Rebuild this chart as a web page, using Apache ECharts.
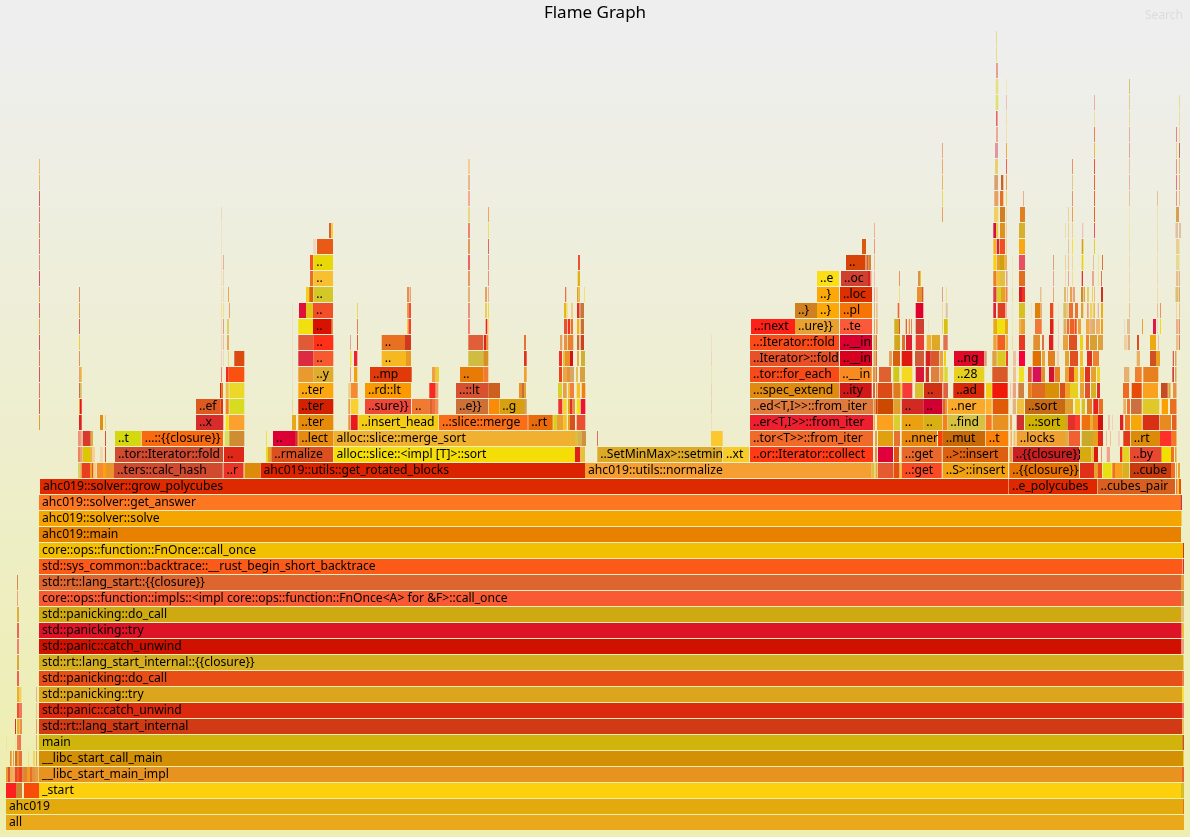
<!DOCTYPE html>
<html><head><meta charset="utf-8"><style>html,body{margin:0;padding:0;background:#eee}#c{width:1190px;height:837px}</style>
<script src="https://cdn.jsdelivr.net/npm/echarts@6/dist/echarts.min.js"></script></head><body><div id="c"></div>
<script>
// Each row is one stack depth: [startSample, endSample, frameName]. colorsN holds the frame colours of that depth.
const row0=[[6,1184,'all']];const colors0='e9a91b';
const row1=[[6,1183,'ahc019'],[1183,1184]];const colors1='e2aa0d e8701a';
const row2=[[6,16],[16,22],[24,39],[39,1181,'_start'],[1181,1184]];const colors2='fc2020 cd8232 f84d08 fdd00d d4bd2a';
const row3=[[6,8],[8,10],[10,12],[12,15],[15,17],[17,19],[19,22],[22,24],[24,27],[27,30],[30,32],[32,35],[35,38.5],[39,1182,'__libc_start_main_impl'],[1182,1184]];
const colors3='e89a28 e05030 e8b050 efb060 f04030 e86020 f03a28 d89040 e88030 e8a020 f06a30 e89040 e0a040 e8931f e86030';
const row4=[[10,11],[11,12],[13,14],[15,17],[17,19],[19,22],[28,29],[33,35],[36,37],[39,1183,'__libc_start_call_main'],[1183,1184]];
const colors4='e0903a e8b050 e8a048 d07028 e8a030 e87040 f0e080 f0d860 e8a050 d39005 d8d828';
const row5=[[6,7],[15,16],[17,19],[19,21],[36,37],[39,1182,'main'],[1182,1183],[1183,1184]];
const colors5='f0e890 f0e8a0 f08040 f07060 e8b070 d0b40b c89030 d84818';
const row6=[[15,16],[17,19],[19,20],[20,22],[36,37],[39,1182,'std::rt::lang_start_internal'],[1182,1184]];
const colors6='d03030 e8b030 f0c050 e89050 e8a060 d03a15 e8c060';
const row7=[[17,19],[19,22],[36,37],[39,1182,'std::panic::catch_unwind'],[1182,1184]];
const colors7='f05030 f07860 f0c090 dc2a0e f07060';
const row8=[[17,19],[19,21],[21,22],[36,37],[39,1182,'std::panicking::try'],[1182,1184]];
const colors8='e8b030 f0d060 f0e090 e8b090 dba51e f0e040';
const row9=[[17,19],[39,1182,'std::panicking::do_call'],[1182,1184]];const colors9='f06050 e84f17 e88050';
const row10=[[17,19],[39,1183,'std::rt::lang_start_internal::{{closure}}'],[1183,1184]];const colors10='d8a840 d4ae1e e8d060';
const row11=[[17,19],[39,1181.5,'std::panic::catch_unwind'],[1181.5,1184]];const colors11='f08070 d01100 e8a080';
const row12=[[17,19],[39,1181.5,'std::panicking::try'],[1182,1184]];const colors12='e86858 dd1428 e8c040';
const row13=[[17,19],[39,1181,'std::panicking::do_call'],[1181,1184]];const colors13='dcb040 cfa912 e8c080';
const row14=[[17,18],[39,1181,'core::ops::function::impls::<impl core::ops::function::FnOnce<A> for &F>::call_once'],[1181,1184]];const colors14='e8a080 f85a33 c89040';
const row15=[[17,18],[39,1181,'std::rt::lang_start::{{closure}}'],[1181,1184]];const colors15='d88850 dc6530 e8a040';
const row16=[[39,1182.5,'std::sys_common::backtrace::__rust_begin_short_backtrace'],[1183,1184]];const colors16='fb5a18 d83028';
const row17=[[39,1183,'core::ops::function::FnOnce::call_once'],[1183,1184]];const colors17='f2c000 d83028';
const row18=[[39,1181,'ahc019::main']];const colors18='e88000';
const row19=[[39,1181.5,'ahc019::solver::solve']];const colors19='f5a500';
const row20=[[39,1180.5,'ahc019::solver::get_answer'],[1180.5,1182]];const colors20='fd7722 d83028';
const row21=[[40,1008.5,'ahc019::solver::grow_polycubes'],[1009,1097,'..e_polycubes'],[1097.5,1175,'..cubes_pair'],[1176,1177.5],[1178,1179],[1179,1181]];
const colors21='de2a00 e02800 d85f1f e88030 f5d010 e85010';
const row22=[[78,80],[80,81],[81.5,90],[90,92],[92,93.5],[93.5,96.5],[97,103],[103,106],[106,114],[114,222.7,'..ters::calc_hash'],[223.5,243.5,'..r'],[244.5,260],[260.5,585,'ahc019::utils::get_rotated_blocks'],[585,871.7,'ahc019::utils::normalize'],[872,874],[874,875],[875.5,877.5],[878,893.5],[894,899.5],[900,901.5],[901.7,941.7,'..:get'],[942.7,1008,'..S>::insert'],[1009.3,1079,'..{{closure}}'],[1080,1094],[1094,1098],[1098,1102],[1102.7,1111.7],[1112.3,1115],[1115,1122.3],[1122.3,1129.3],[1130,1171,'..cube'],[1171,1175],[1176,1177],[1178,1180]];
const colors22='d8d060 e8c040 e8401e f0a020 e85030 f0d080 f58a30 fba010 e9952c d04a30 e93526 dc8c0a dc2300 f59f32 d8c040 e8e060 f0a040 e55a30 e0500f e8d020 fa4a25 f0a010 e67000 e0301a e8a030 e85020 e8e010 f07020 f8a020 d8b020 c83a10 f07020 e8b060 e8a030';
const row23=[[78,80],[80,82.5],[82.7,90],[90,92.5],[92.5,95],[100,103],[105,106],[115,223,'..tor::Iterator::fold'],[224,244,'..'],[266,268],[268,271],[271.3,333,'..rmalize'],[333.5,575,'alloc::slice::<impl [T]>::sort'],[575,580],[580,585],[597.3,722.3,'..SetMinMax>::setmin'],[723,749,'..xt'],[750,873,'..or::Iterator::collect'],[875,877],[878,893],[894,899],[901.7,941.7,'..:get'],[942.7,1008,'..>::insert'],[1009.5,1012],[1012.7,1079.3,'..{{closure}}'],[1080,1091.5],[1092,1094],[1094,1098],[1101,1102],[1106.7,1110],[1120,1122.5],[1122.5,1129.5],[1130,1161.7,'..by'],[1161.7,1171],[1171,1174],[1175,1176.5]];
const colors23='f08060 e8a080 dcc800 f0b050 f8d090 f0d8b0 e05030 d04a30 e02818 f0d820 e8a020 dc5020 f5de08 e0201a e8c040 dcaa28 f8cc28 ff3a14 e89040 e0003c e0500f e8682a dc6010 f0a040 c82020 d8aa10 e8c040 d81a10 f09070 f0a090 e83020 e8d020 e84830 f0e000 f07030 e8a020';
const row24=[[78,80],[80,81.7],[82.7,90.7],[90.7,93],[105,106],[115,141,'..t'],[141.7,223,'...::{{closure}}'],[224.7,229],[229.3,244.3],[266,267],[273,295,'..'],[295,297.7],[298.3,333.3,'..lect'],[333.5,575,'alloc::slice::merge_sort'],[575,578],[578,582],[582,586],[597,598],[711,722.7],[750,873,'..tor<T>>::from_iter'],[875,877],[878,893],[894,900],[901.7,937,'..nner'],[938,942.7],[942.7,985,'..mut'],[985.7,1008.3,'..t'],[1010.5,1012],[1013.5,1015.5],[1016.7,1065,'..locks'],[1065,1068],[1068.5,1080],[1081.7,1093],[1093,1098],[1098,1103],[1106,1107],[1110,1111],[1118,1120],[1123.3,1130],[1130.7,1160,'..rt'],[1160,1171.7],[1172,1176.5]];
const colors24='f09080 e8a078 d83a30 d8b040 e05030 d3d80f f86a10 d8e060 d08c30 f0e040 dc0035 d83020 e68a10 f0b030 d8c040 d8b050 d09040 e07060 fcc830 f06a2a e8a040 e0a010 e87030 e8880e fa4008 c86a08 fa8008 f0b060 f0c070 f0a030 d8b040 f06030 cca828 e8a020 e02818 e8c0a0 f0c0a0 f0d0c0 e03818 dc8a0a ff3028 f07a20';
const row25=[[39,40],[79,81.7],[100,103],[105,106],[196,223.3,'..x'],[225.7,228.7],[229,244.3],[292,296],[298.3,333.3,'..ter'],[348.3,350],[350.7,357.7],[358.3,438.3,'..insert_head'],[439,527.7,'..:slice::merge'],[528.3,552.7,'..rt'],[553.3,556.7],[556.7,563.3],[563.3,566.7],[568,570],[570,575],[576.7,585.3],[711,712],[750,873,'..er<T,I>>::from_iter'],[873.5,875],[877,893.3],[894,900],[901.7,923.3,'..'],[923.3,942,'..'],[942.7,947],[947.3,985,'..find'],[985.7,991.7],[992.7,1008.3],[1010,1012],[1016.7,1024],[1025,1065,'..:sort'],[1065,1068],[1068,1075],[1075,1080],[1081.7,1090],[1090,1093],[1093,1098],[1098,1103],[1108,1110],[1112,1113],[1120,1123.3],[1125,1130],[1131,1141.7],[1142.7,1159.3],[1160,1171],[1172,1176.5]];
const colors25='e0a030 e02020 e09010 f0d080 d82c2c f5e010 fca030 e8a818 e68a0a e89040 e81a1a f5cc14 fa6e1a e86a0a d8d010 e8a030 f5c020 e8a020 d85020 e85030 f0dcc0 ee2030 e8b050 fca020 d8d030 eaa010 d8b015 f8801a d8c040 f87a20 e89020 f0a050 d03030 d0b000 d8a030 e03028 ff3b30 f07010 e8b030 f08020 d01010 f0c0b0 f0d0c0 e02020 f07820 f5a808 d83015 e88a20 e86020';
const row26=[[39,40],[79,80],[80,81.7],[196,220.7,'..ef'],[220.7,223],[225.7,228.7],[229.3,244.3],[292,293],[298.3,333.3,'..ter'],[348.3,350],[350.7,358.3],[365,411,'..sure}}'],[412,429.3,'..'],[429.3,432],[432,435],[435,438.3],[456,488.3,'..e}}'],[489,499],[499.3,524,'..g'],[524,526.7],[558.3,562.3],[563,566.7],[568,570],[570,572],[572,575],[576.7,580],[580.7,585.3],[711,712],[750,873,'..ed<T,I>>::from_iter'],[873.5,875],[875.5,877],[877.3,893.3],[893.5,900.5],[901.7,923.3,'..'],[923.3,942.3,'..'],[942.7,945],[945,947],[947.7,985,'..ner'],[985.7,991.7],[992.7,1008.3],[1012.7,1016],[1017,1024],[1025,1065,'..sort'],[1065,1073],[1075,1080],[1081.7,1085],[1087,1092],[1093.3,1098.3],[1099,1103],[1123.3,1126],[1127,1130],[1131,1141.7],[1142.7,1159.3],[1161.7,1168],[1170,1176.5]];
const colors26='d8604a e8a040 f01010 dc5a20 e03010 f08020 d8dc20 f0d890 d22000 e8a050 f8d030 f04838 f07a30 e06030 f07040 f09050 cc7038 fa8a08 d8a010 d0a050 f03030 f5d820 e8a020 e03030 e89040 f0e010 f01030 f0d0b0 e07a3c e09030 d83a10 cc4a00 e0a030 d02a22 d00030 e06030 f09030 fba92a fcb030 e05a08 e8b080 f0c040 c86a14 e0a030 f0d020 d8c020 e08020 e82020 e87020 e8b060 f07030 cc7040 e0c828 fca000 e87020';
const row27=[[39,40],[79,80.5],[80.5,81.7],[220,221.5],[221.5,223],[225.7,228.7],[229.3,244.3],[292,293],[298.3,333.3,'..ter'],[348.3,350],[350.7,357.7],[365,411,'..rd::lt'],[429.3,435.7],[435.7,438.3],[456,488.3,'..::lt'],[488.3,500],[519,522],[522,524],[524,526],[558,562],[563,566.7],[568,570],[570,574],[576.7,580],[581.7,585.3],[711,712],[750,839,'..:spec_extend'],[839.7,871.7,'..ity'],[873,875],[876,877],[877.7,892.3],[893.3,900],[900,901.7],[902.3,912.3],[915,923.3],[924,942.3,'..'],[943.3,948],[953.3,984.3,'..ad'],[986,991.7],[992.3,1007.7],[1010,1011],[1012.7,1016],[1018.3,1024],[1028,1031.7],[1031.7,1045],[1045,1059.3],[1060,1065],[1065,1070],[1070,1078],[1080,1084],[1085,1090],[1091,1096],[1097,1100],[1123,1129],[1131.7,1141.7],[1143,1158],[1161,1167.7],[1168.3,1170.5],[1173,1176.5]];
const colors27='e87060 c87050 d8c050 d02010 f07000 e8c040 ecd828 f0e0b0 fba810 e8d080 f58a30 fb9a00 f82a20 e8a070 d85030 cc6020 e89030 c87030 e8a030 d8d030 e8a040 f0c040 f08040 f5c020 f08010 f0d0c0 e08a10 d01818 e06030 f08040 dc4a15 e07a20 f0c030 f53a38 d8c030 d03015 e06040 d82a08 f0d010 f01808 f0c0b0 f0a080 d08040 e8801a e06a20 d89008 d85020 f0a020 e8d020 e8a030 e05030 d8b020 e03020 f06a20 e84a08 fca020 c84a20 e0a030 e89040';
const row28=[[39,40],[79,80],[80,81.7],[221,222],[226,228.7],[229,244.3],[292,293],[298.3,313.3],[313.3,333.3,'..y'],[350,351],[354,357.3],[370,411.7,'..mp'],[432,435.7],[435.7,439],[460,483.3,'..'],[483.3,488.3],[524,526.7],[559,562],[563,567],[567,570],[570,574],[576,578],[580,585],[711,712],[750,839,'..tor::for_each'],[839.3,871.7,'..__in'],[873,875],[875.5,877],[879,891],[893.3,899.3],[901.7,912.3],[915.7,924],[925.7,929],[931,939.3],[940,943.3],[944.3,947.7],[954,984.3,'..28'],[992.3,1007.7],[1013,1016],[1019,1024],[1028,1031.7],[1032.7,1041],[1041,1045],[1049,1054.3],[1055,1060],[1065,1069],[1069,1074],[1074,1078],[1080,1084],[1085,1090],[1091,1096],[1097,1100],[1124,1129.3],[1135,1141.7],[1143.3,1158.3],[1172.3,1174],[1175,1176.5]];
const colors28='d85060 e8a070 f0b040 f08070 f82818 fa5010 f0e0c0 e89a30 e0ac30 e8a090 f0a010 e03a0a f0a040 e8d030 e87a08 f07a30 f0a030 f04020 e8a840 e89040 d8a860 e8c050 d8a040 ece8a8 f84a18 f88a20 e89040 e07030 e06030 d0c818 f5d820 d81535 d83020 e08040 f0b040 d8d830 e8d020 d85a28 f0c090 f0e020 e05030 d81058 e09030 d81030 e88020 e8a030 e04020 f0c020 f0b020 e03020 e8a030 f0d020 e8b070 f08030 e88020 d04040 e8a050';
const row29=[[39,40],[79,80],[221,222],[223,224],[228,229],[234.3,244.3],[292,293],[298.3,313.3],[313.3,333.3,'..'],[350,351.5],[354,357.3],[381.7,406,'..'],[406,411],[468.3,483.3],[483.3,488.3],[524,526.7],[559,562],[563,565],[565,570],[570,573],[577,579],[581,585],[711,712],[750,839,'..Iterator>::fold'],[840,872,'..__in'],[873.5,875],[875.5,877],[889,892],[893,900],[901.7,912.3],[915,924],[925.7,930.7],[931,939.3],[940,943],[944,946],[954,984.3,'..ng'],[984.5,986.7],[992.3,996.7],[997.3,1005.7],[1006,1008],[1013,1016],[1019,1025],[1032.7,1041],[1042,1045],[1048,1055],[1056.7,1059],[1065,1069],[1070,1078],[1080,1083],[1087,1092],[1093,1099],[1136.7,1140],[1150,1156],[1156,1160],[1172.7,1174],[1175,1176.5]];
const colors29='e87060 e09060 f0d0c0 f0d8c0 f0d860 dc4a10 f0e0c0 dc2a40 f85a30 f0e040 f02030 f5b820 e89a20 d0bc40 d89020 e03020 f03030 f0c020 e89030 d81010 e8b040 d0b030 f0d0c8 e85028 d80020 e8a040 e07030 e8a060 d86010 e01a10 d05a38 d82020 d85a28 e8a040 f0d010 e00a28 d8a070 e0a040 dcc820 f04030 f0c0a0 f8003a e07000 e8a040 e08020 f0d0b0 e8a030 e05020 f0c030 e03020 f08030 e8b060 d05020 e8a020 d06060 e8a050';
const row30=[[39,40],[79,80],[221,222],[223,224],[227,229],[292,293],[298.3,313.3],[313.3,333.3,'..'],[350,351],[357,358],[381.7,405,'..'],[405,411],[468.3,483.3],[484,486],[486,488.3],[524,526],[560,562.3],[564,567.3],[568,573.3],[577,579.3],[580.7,584],[711,712],[750,839,'..:Iterator::fold'],[840,872,'..__in'],[873.5,875],[875.5,877],[894.3,900],[902,905],[906,912],[915.7,924],[926.7,931],[931.7,940],[943.3,947.7],[993.3,996.7],[997.3,1005],[1005.5,1008],[1012,1013],[1019,1025],[1033.3,1040],[1042,1044],[1049,1053.3],[1058,1059],[1063,1068],[1069,1077],[1080,1083],[1086,1089],[1090,1097],[1098,1103],[1124,1127],[1127.7,1130],[1137,1139],[1150,1156],[1158,1159],[1176,1178.5],[1179,1180]];
const colors30='d85060 e8d040 f0d0c0 e8c0a0 e8a860 f0e0c0 e05a38 ff3018 e8a0a0 d85a30 e87020 d03820 e05f38 e02020 e89040 e87030 e8a060 e89040 e88030 c87030 d04020 f0dcc0 fa4a18 d80030 e8a040 e07030 d0a818 e07030 e02030 e84030 f0b030 e0a828 e07050 f0a030 f06020 f0b040 f0e090 e83a20 e09030 e07040 e02020 f0d0c0 e8a040 e05020 f0d010 f08030 d8a030 e0a040 f0d0a0 e0b080 d85020 f0a810 f0c090 e8c090 e08050';
const row31=[[39,40],[79,80],[221,222],[223,224],[227,229],[292,293],[298.3,313],[313,331.7,'..'],[331.7,333],[357,358],[407,408.5],[408.5,411],[468,470],[485.7,487.3],[488,489],[564,567.3],[568,570],[570.7,573],[577,579.3],[580.7,584],[751,795,'..:next'],[795,839,'..ure}}'],[840,872,'..te'],[874,875],[876,877.7],[894.3,899],[899,900],[905.7,907],[908.7,910],[911,912],[915.7,924],[928,929],[942,943],[944,947.7],[993.3,997],[997,1005],[1005,1008],[1012,1013],[1019,1020.5],[1020.5,1025],[1035,1041.7],[1050,1053.5],[1058,1059],[1063.5,1066],[1066.7,1069],[1069.7,1074],[1074.5,1076.7],[1078,1081],[1086,1089.7],[1090.5,1091.5],[1092,1095],[1096,1100],[1101,1103],[1124,1125],[1127,1130],[1142,1143],[1153,1156],[1157,1158],[1160,1161],[1176,1178.5],[1179,1180]];
const colors31='e0a050 d06060 f0d8c0 e0a080 e0d060 f0e0c0 f0e010 d81200 e89040 e08060 f8c830 f04030 f88070 f02020 f8e060 e85030 f03020 f07020 f8b010 c87030 ff2018 e8a030 fa5a38 e8a060 e8b070 d0b020 f05030 e86030 e89040 f08060 d04030 f0e0d0 f0d860 d8c010 e8a820 f0e010 e8a820 f0e8b0 f0b040 e8a030 f07838 e02010 f0d0c0 d8b060 e87030 f06020 f84818 f0a030 f0a840 e07040 e0b060 f0b070 f0a010 f0d8c0 e0c090 e8a030 e01848 f0d8c0 f0e000 e8b090 e89050';
const row32=[[39,40],[79,80],[221,222],[223,224],[229,230],[292,293],[299,306],[306,313],[313,333,'..'],[357,358],[407,408.5],[408.5,411],[468,470],[485,487],[488,489],[564,566.3],[566.5,567.5],[571,573],[577,579],[579.5,580.5],[581,584],[795,817,'..}'],[817,839,'..}'],[840,872,'..pl'],[874,875],[876,877.7],[897.7,899.3],[915.7,923.3],[942,943],[945.7,947.7],[993.3,996],[997.7,1005],[1005,1007],[1012,1013],[1019,1025],[1031,1032],[1035,1040],[1040,1042],[1050,1053.3],[1058,1059],[1063.3,1066.7],[1067,1068.7],[1069,1073],[1075,1078],[1081,1083.3],[1087,1088.7],[1090,1092.3],[1093.3,1095],[1097.7,1099],[1101,1103],[1129,1130],[1157,1158],[1160,1161],[1176,1177],[1179,1180]];
const colors32='e06060 e0a040 f0e0a0 f0e090 f0a060 f0e0c0 e0103a e0c818 f04f2a e8d860 e8a040 f05030 e89080 e8d050 e8d860 e8b810 f0d860 f0d080 e03020 d03020 c87830 d08020 fba808 f67405 e8b070 e8c0a0 f06030 e0002c f0d8a0 e0c0a0 e02030 e04020 f0b0a0 f0e8c0 d8c020 f0e0c0 e08008 e8b070 f04818 f0e0d0 d8c060 e8c890 e87030 f07030 e0a030 f0a070 f0d060 e8c040 f0b0b0 e8b010 f0c090 f0c090 f09060 e8d8a0 e8c080';
const row33=[[39,40],[79,80],[221,222],[223,224],[228,229],[306,309.3],[309.3,313],[313.3,333,'..'],[407,409],[409.5,411],[468,470],[485,487],[488,489],[565,566.3],[577,578.5],[578.5,580],[584,585],[817,839,'..}'],[840,872,'..loc'],[874,875],[876,877.7],[899,900],[917,922],[922,923.3],[942,943],[946,947],[993.3,996.5],[997,1001],[1001,1005],[1005.5,1007.5],[1012,1013],[1019,1022],[1022,1025],[1040,1041.5],[1053,1054],[1064,1066],[1067,1068],[1070,1072],[1072.7,1075],[1081,1083],[1083.5,1085],[1087,1089],[1092,1093],[1094,1095],[1101,1103],[1129,1130],[1157,1158],[1175.5,1178.5],[1179,1180]];
const colors33='e8a050 e09060 f0e0c0 f0d8c0 f8a050 f0d010 d86010 d4c828 e09050 f0a070 e0b080 e8a060 f0b090 f07050 d8a030 e8c040 f0e080 fba808 dc3000 f0a090 f0d0b0 e8e090 e89030 e05030 e0a090 f0e090 e03a40 d8d020 e8a020 f08040 f0e090 d02020 f83020 e8c090 f0a080 e0b870 e8c0a0 e8a050 f0a070 c89020 e8a050 e8d060 f0d060 e8c080 d03020 f0d8b0 f0d8b0 d8c070 e8a060';
const row34=[[39,40],[221,222],[223,224],[310,313],[313.3,333,'..'],[468,470],[488,489],[577.7,580],[817,839,'..e'],[841,868,'..oc'],[868,870.5],[871,872],[874,875],[899,900],[918,920],[920,921],[993.3,996.5],[997,1000],[1000,1005],[1006,1007.5],[1012,1013],[1019,1025],[1053,1054],[1065,1066],[1068,1069],[1072,1073],[1081.7,1083],[1092,1094],[1098,1099],[1101,1102],[1129,1130],[1157,1158],[1176,1178.5],[1179,1180]];
const colors34='d85060 f0e0c0 f0d0b8 e87020 f8c030 e89860 e89080 e0b010 fadf18 d04030 d82020 f0c0a0 f0c0a0 f09060 e09040 d8d030 e88020 f8c030 e0c040 e8a080 f0e8b0 e07020 f0a090 f0d8b0 f0a090 f0e090 e83030 e8a890 f0e890 e07060 f0d8b0 f0d8b0 e8c090 e8b090';
const row35=[[39,40],[221,222],[223,224],[310,313],[313.3,333,'..'],[468,470],[488,489],[578,580],[846,865,'..'],[865,866.5],[866.5,868.5],[868.5,871],[874,875],[993.3,996],[996.7,1000],[1000,1004],[1004,1007],[1012,1013],[1019,1025],[1053,1054],[1065,1066],[1068,1069],[1072,1073],[1081.7,1083.3],[1093,1094],[1098,1099],[1102,1103],[1129,1130],[1157,1158],[1176,1179.5]];
const colors35='e09070 f0e0c8 e8b090 fa5020 e8d808 f06060 e89080 f05030 d84408 e89060 d06030 d88030 f0c080 f8d010 e8a020 d0a010 f0b050 f0e8b0 e85060 e0a070 f0d0a0 f0c090 f0d890 f0d000 e8c090 f0e890 e07040 f0d8b0 f0e0b0 e8d890';
const row36=[[39,40],[221,222],[313,316],[317,333],[468,470],[488,489],[862,866],[874,875],[993.3,996],[996.7,999.3],[1000,1005],[1006,1007],[1019,1025],[1068,1069],[1072,1073],[1081.7,1083.3],[1094,1095],[1129,1130],[1157,1158],[1176,1179.5]];
const colors36='e07060 f0e0c8 f0d8c0 e85a15 e09860 e86060 d85a10 f09878 f8b020 e02020 f05020 f0d090 f8a810 f0c090 f0e040 d8a010 e8d020 f0d8b0 f0d8b0 e8d090';
const row37=[[39,40],[221,222],[329,331],[331,333],[468,470],[488,489],[874,875],[993.3,996],[996,998.3],[1000,1005],[1006,1007],[1019,1025],[1065,1066],[1068,1069],[1072,1073],[1082,1083.3],[1094,1095],[1129,1130],[1157,1158],[1175.5,1178],[1179,1181]];
const colors37='e08060 f0e0c8 d86040 f8d030 f08070 e8e060 f0b090 d81040 e8d040 e09020 f0d0a0 d8b030 f0d8b0 f0d090 f0d090 f0c0c0 f05060 f0e8a0 f0e0b0 e0c0a0 e0c0a0';
const row38=[[39,40],[221,222],[468,470],[488,489],[942,943],[994,998.3],[1000,1005],[1006,1007],[1020,1025],[1068,1069],[1072,1073],[1094,1095],[1129,1130],[1157,1158],[1176,1179]];
const colors38='e07060 f0d8b8 e8d880 f8a060 e8a060 f0d060 d08020 f0d8b0 e08020 f0d090 e8a050 e86030 f0e8b0 f0e0b0 d8a050';
const row39=[[39,40],[468,470],[942,943],[994.3,998.3],[1000,1003.3],[1006,1007],[1023,1024],[1072,1073],[1094,1095],[1129,1130],[1157,1158],[1176,1177],[1179,1180]];
const colors39='d86060 f8a890 e8d860 e8a060 e87020 e8d860 e8b090 e89070 f06030 e8c0a0 e8c090 e89090 e8c080';
const row40=[[39,40],[468,470],[942,943],[994.3,998],[1001,1003.3],[1006,1007],[1072,1073],[1094,1095],[1129,1130],[1176,1177],[1179,1180]];
const colors40='e8b860 e8b890 e8b860 d8a070 d06020 e8a050 e8c880 f06030 e8b0a0 e87090 e8b070';
const row41=[[39,40],[468,470],[942,943],[995,998],[1006,1007],[1072,1073],[1094,1095],[1129,1130],[1176,1177],[1179,1180]];
const colors41='e8c060 f0d090 f0a868 e8d070 f06050 f09060 f05040 e0c8a0 e89090 e0c070';
const row42=[[942,943],[995,998],[1006,1007],[1094,1095],[1129,1130],[1176,1177],[1179,1180]];const colors42='e8a888 e098a0 f0a840 e8c040 e0a890 e8d090 c87050';
const row43=[[996,998],[1006,1007],[1094,1095],[1129,1130],[1176,1177],[1179,1180]];const colors43='f0a890 f0e0b0 f08050 e0b0a0 e88090 e8d890';
const row44=[[996,997],[997,998],[1006,1007],[1094,1095],[1129,1130],[1179,1180]];const colors44='f06060 e8a0a0 f0e0b0 f0e0a0 e8d8a0 e8e0a0';
const row45=[[995.7,998.3],[1006,1007],[1094,1095],[1129,1130],[1179,1180]];const colors45='e0e070 f0c0b0 e8b0a0 e8c890 e8e090';
const row46=[[995.7,998.3],[1006,1007],[1129,1130]];const colors46='e8e080 f0e8b0 e0c070';
const row47=[[996,998]];const colors47='e8a090';
const row48=[[996,997]];const colors48='e8e080';
const row49=[[996,997]];const colors49='e8e080';

const stackRows=[row0,row1,row2,row3,row4,row5,row6,row7,row8,row9,row10,row11,row12,row13,row14,row15,row16,row17,row18,row19,row20,row21,row22,row23,row24,row25,row26,row27,row28,row29,row30,row31,row32,row33,row34,row35,row36,row37,row38,row39,row40,row41,row42,row43,row44,row45,row46,row47,row48,row49];
const stackColors=[colors0,colors1,colors2,colors3,colors4,colors5,colors6,colors7,colors8,colors9,colors10,colors11,colors12,colors13,colors14,colors15,colors16,colors17,colors18,colors19,colors20,colors21,colors22,colors23,colors24,colors25,colors26,colors27,colors28,colors29,colors30,colors31,colors32,colors33,colors34,colors35,colors36,colors37,colors38,colors39,colors40,colors41,colors42,colors43,colors44,colors45,colors46,colors47,colors48,colors49];

const frames=[];
stackRows.forEach(function(row,depth){
  const cs=stackColors[depth].split(' ');
  row.forEach(function(f,i){frames.push({value:[f[0],f[1],depth],frameName:f[2]||'',color:'#'+(cs[i]||'e8a040')});});
});

const LABEL_FONT='12.15px "Noto Sans", sans-serif';
const chart=echarts.init(document.getElementById('c'),null,{renderer:'canvas'});
chart.setOption({
  animation:false,
  backgroundColor:new echarts.graphic.LinearGradient(0,0,0,1,[{offset:0.05,color:'#eeeeee'},{offset:0.95,color:'#eeeeb0'}]),
  title:[
    {text:'Flame Graph',left:'center',top:0,textStyle:{fontFamily:'"Noto Sans", sans-serif',fontSize:17,fontWeight:'normal',color:'#000'}},
    {text:'Search',right:2,top:4.5,textStyle:{fontFamily:'"Noto Sans", sans-serif',fontSize:12,fontWeight:'normal',color:'#dcdcdc'}}
  ],
  grid:{left:6,right:6,top:15,bottom:6},
  xAxis:{type:'value',min:6,max:1184,show:false},
  yAxis:{type:'value',min:0,max:51,show:false},
  tooltip:{show:false},
  series:[{
    type:'custom',
    silent:true,
    clip:false,
    encode:{x:[0,1],y:2},
    data:frames,
    renderItem:function(params,api){
      const f=frames[params.dataIndex];
      const a=api.coord([api.value(0),api.value(2)+1]);
      const b=api.coord([api.value(1),api.value(2)]);
      const children=[{type:'rect',shape:{x:a[0],y:a[1],width:b[0]-a[0],height:b[1]-a[1]-1},style:{fill:f.color}}];
      if(f.frameName){children.push({type:'text',style:{x:a[0]+3,y:a[1]+7.5,text:f.frameName,fill:'#000',font:LABEL_FONT,textVerticalAlign:'middle',textAlign:'left'}});}
      return {type:'group',children:children};
    }
  }]
});
</script></body></html>
